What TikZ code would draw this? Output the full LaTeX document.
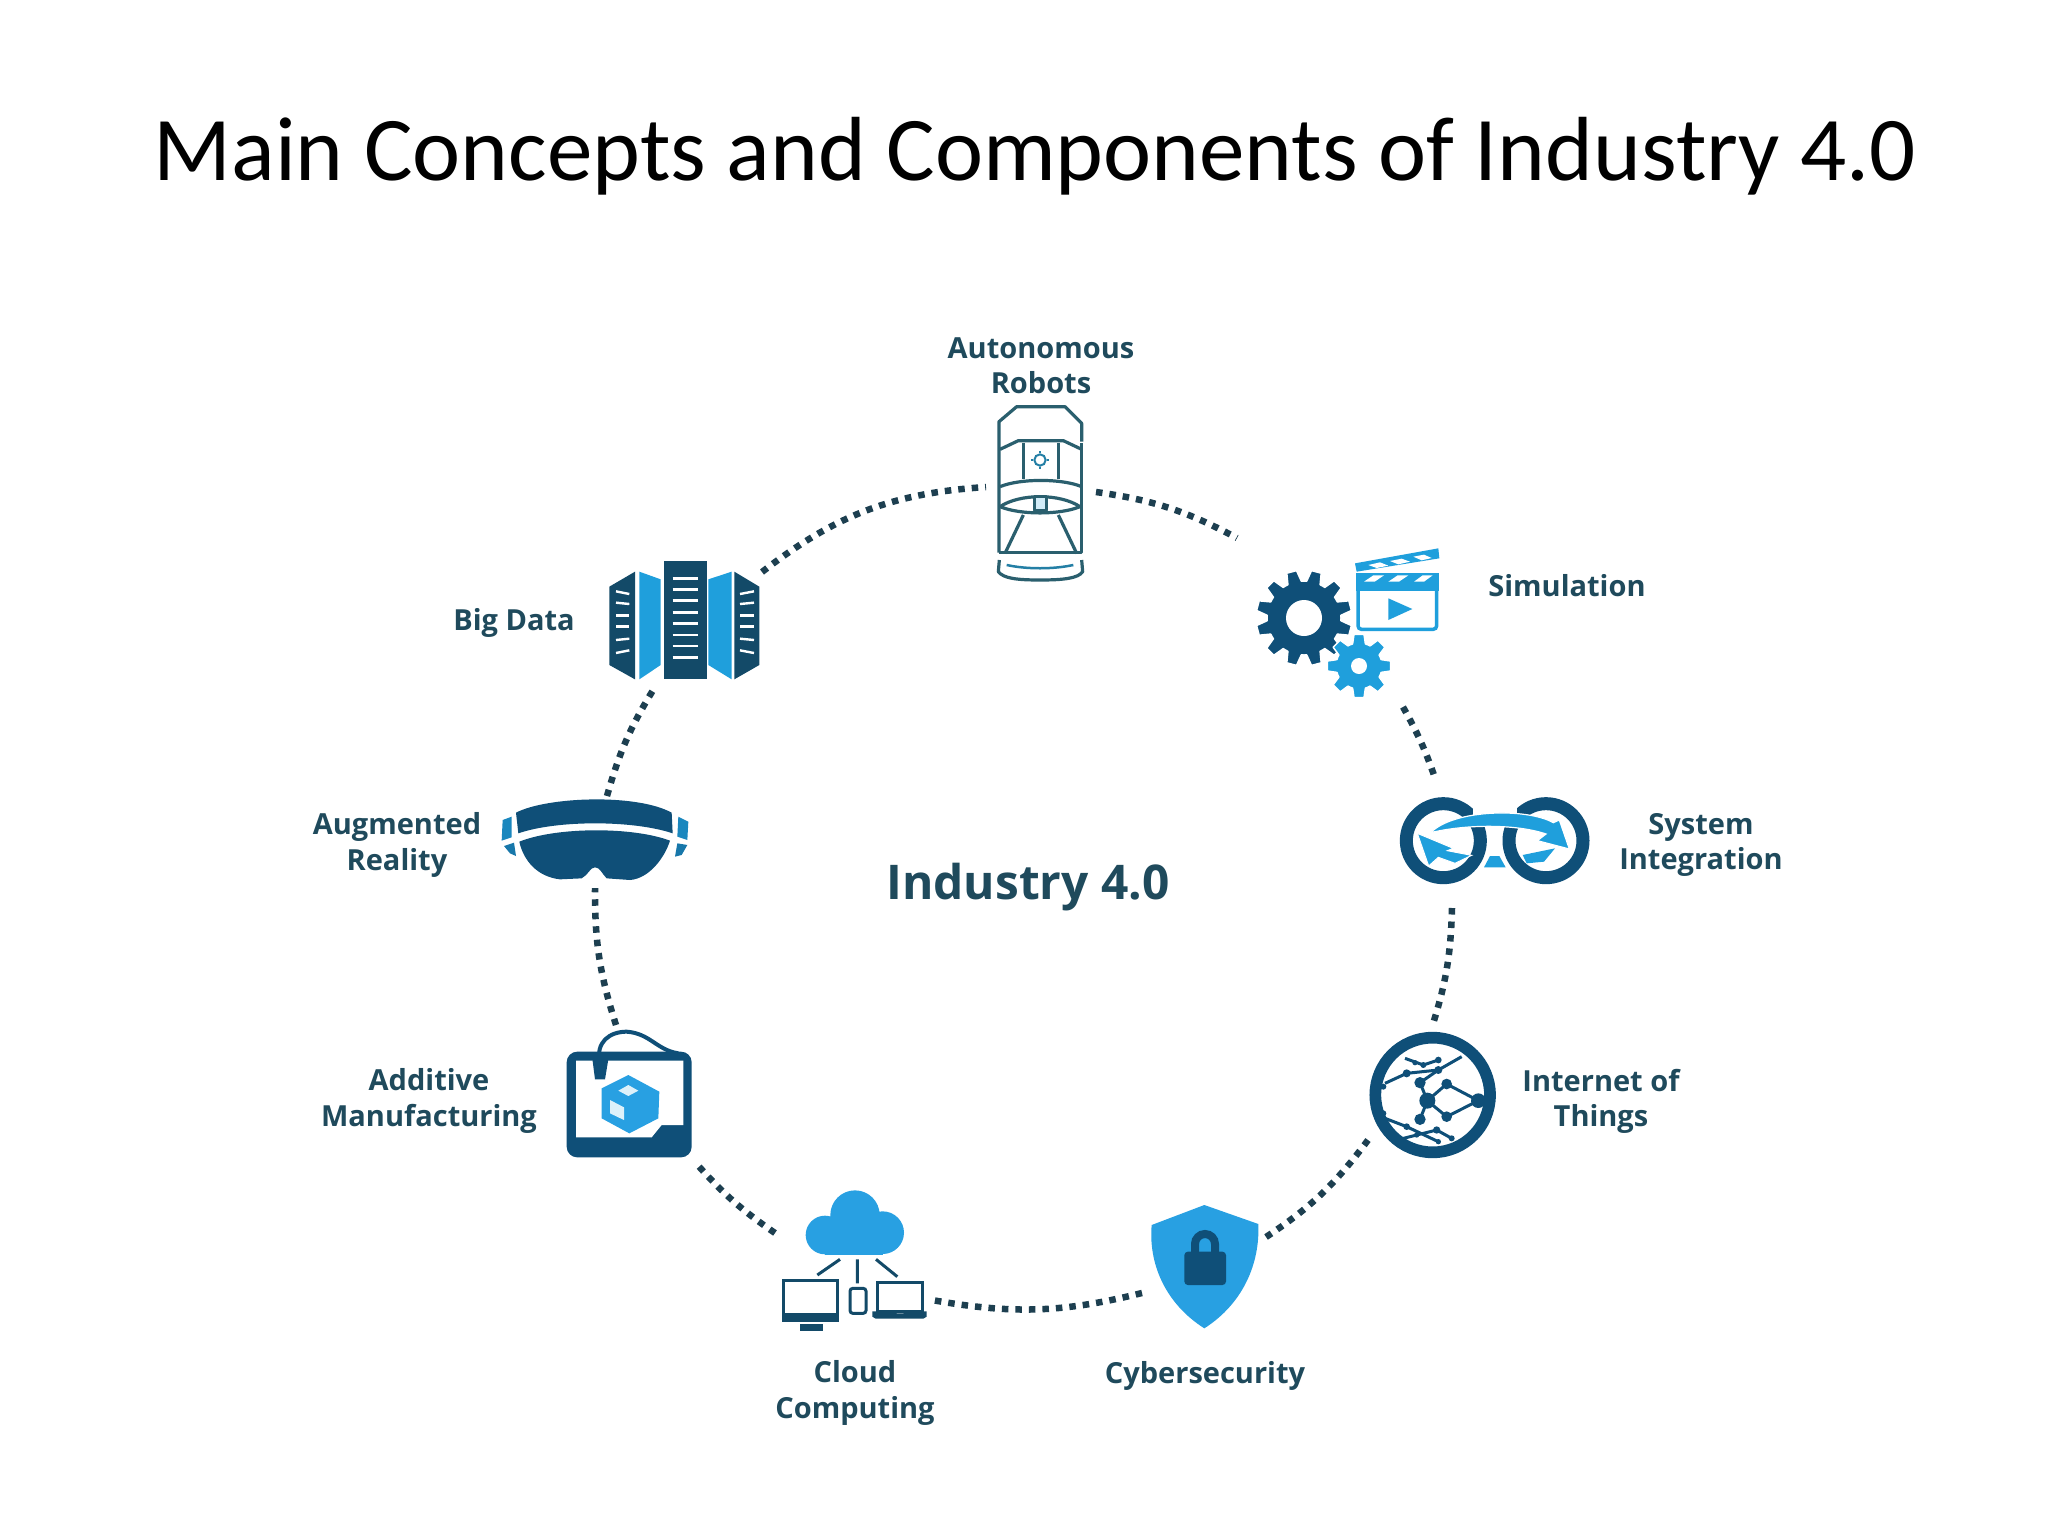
\documentclass[tikz,border=0pt]{standalone}
\usepackage{fontspec}
\setmainfont{Carlito}
\newfontfamily\labelfont{Open Sans}
\definecolor{txt}{HTML}{1F4A5C}
\definecolor{dotc}{HTML}{1D3F50}
\definecolor{navy}{HTML}{0F4F78}
\definecolor{rack}{HTML}{134A68}
\definecolor{sky}{HTML}{1F9FDC}
\definecolor{shieldc}{HTML}{28A0E2}
\definecolor{carl}{HTML}{2A5F6E}
\tikzset{
  lbl/.style={font=\labelfont\bfseries\fontsize{8.25}{10}\selectfont,text=txt,align=center,inner sep=0pt},
  dots/.style={draw=dotc,line width=0.065cm,dash pattern=on 0.065cm off 0.07cm},
  carline/.style={draw=carl,line width=0.032cm,line join=round},
  net/.style={draw=navy,line width=0.03cm},
}
\newcommand{\gearshape}[5]{%
  \begin{scope}[shift={#1}]
  \pgfmathsetmacro{\stp}{360/#4}
  \fill[#5,draw=white,line width=0.015cm,line join=round] (0:#3)
    \foreach \k in {1,...,#4}{
      -- ({(\k-1)*\stp+0.14*\stp}:#3) -- ({(\k-1)*\stp+0.30*\stp}:#2) -- ({(\k-1)*\stp+0.70*\stp}:#2) -- ({(\k-1)*\stp+0.86*\stp}:#3) -- ({\k*\stp}:#3)
    } -- cycle;
  \end{scope}}
\begin{document}
\begin{tikzpicture}[x=0.01cm,y=-0.01cm]
\useasboundingbox[fill=white] (0,0) rectangle (2048,1536);

\node[font=\fontsize{25.9}{30}\selectfont,inner sep=0pt] (title) at (1035,156) {Main Concepts and Components of Industry 4.0};
\node[lbl,font=\labelfont\bfseries\fontsize{13.6}{16}\selectfont] (center) at (1028,887) {Industry 4.0};

\node[lbl] (l1) at (1041,366) {Autonomous\\Robots};
\node[lbl] (l2) at (1567,586) {Simulation};
\node[lbl] (l3) at (1701,845) {System\\Integration};
\node[lbl] (l4) at (1601,1101) {Internet of\\Things};
\node[lbl] (l5) at (1205,1376) {Cybersecurity};
\node[lbl] (l6) at (855,1393) {Cloud\\Computing};
\node[lbl] (l7) at (429,1101) {Additive\\Manufacturing};
\node[lbl] (l8) at (397,845) {Augmented\\Reality};
\node[lbl] (l9) at (514,623) {Big Data};

% dotted arcs
\coordinate (a1s) at (1096,492); \coordinate (a1e) at (1237,538);
\coordinate (a2s) at (1403,707); \coordinate (a2e) at (1435,778);
\coordinate (a3s) at (1452,908); \coordinate (a3e) at (1432,1027);
\coordinate (a4s) at (1368,1140); \coordinate (a4e) at (1263,1239);
\coordinate (a5s) at (1142,1293); \coordinate (a5e) at (932,1300);
\coordinate (a6s) at (775,1233); \coordinate (a6e) at (695,1162);
\coordinate (a7s) at (616,1025); \coordinate (a7e) at (595,888);
\coordinate (a8s) at (607,796); \coordinate (a8e) at (655,687);
\coordinate (a9s) at (762,572); \coordinate (a9e) at (986,487);
\draw[dots] (a1s) to[bend left=10] (a1e);
\draw[dots] (a2s) to[bend left=5] (a2e);
\draw[dots] (a3s) to[bend left=8] (a3e);
\draw[dots] (a4s) to[bend left=10] (a4e);
\draw[dots] (a5s) to[bend left=12] (a5e);
\draw[dots] (a6s) to[bend left=7] (a6e);
\draw[dots] (a7s) to[bend left=9] (a7e);
\draw[dots] (a8s) to[bend left=8] (a8e);
\draw[dots] (a9s) to[bend left=17] (a9e);

% car
\begin{scope}[shift={(980,400)},scale=1/3]
  \draw[carline] (305,125) -- (305,70) -- (255,20) -- (110,20) -- (57,65) -- (57,458);
  \draw[carline] (305,130) -- (305,458) -- (57,458);
  \draw[carline] (60,148) -- (115,122) -- (250,122) -- (305,148);
  \draw[carline] (130,130) -- (130,238); \draw[carline] (235,130) -- (235,238);
  \draw[carline] (60,260) .. controls (120,235) and (245,235) .. (305,260);
  \draw[carline] (60,320) .. controls (120,280) and (240,280) .. (300,320) .. controls (240,345) and (120,345) .. cycle;
  \draw[carline,fill=sky!20] (163,290) rectangle (200,332);
  \draw[draw=sky!50!carl,line width=0.02cm] (180,180) circle (17);
  \draw[draw=sky!50!carl,line width=0.015cm] (180,153) -- (180,160) (180,200) -- (180,207) (153,180) -- (160,180) (200,180) -- (207,180);
  \draw[carline] (130,345) -- (75,460); \draw[carline] (235,345) -- (290,460);
  \draw[carline] (58,480) -- (55,515) .. controls (70,535) and (110,540) .. (180,540) .. controls (250,540) and (295,535) .. (308,515) -- (305,480);
  \draw[draw=sky!50!carl,line width=0.025cm] (80,495) .. controls (140,508) and (220,508) .. (280,495);
\end{scope}

% gears
\gearshape{(1304,618)}{48}{37}{12}{navy}
\fill[white] (1304,618) circle (18);
\begin{scope}[shift={(1359,666)},rotate=22.5]
\gearshape{(0,0)}{32}{23}{8}{sky}
\end{scope}
\fill[white] (1359,666) circle (8);

% clapperboard
\begin{scope}[shift={(1240,530)},scale=1/3]
  \fill[sky] (345,100) -- (595,55) -- (598,85) -- (350,125) -- cycle;
  \fill[white] (385,105) -- (420,97) -- (445,107) -- (410,114) -- cycle;
  \fill[white] (450,93) -- (485,86) -- (510,95) -- (475,103) -- cycle;
  \fill[white] (520,80) -- (552,74) -- (575,84) -- (545,91) -- cycle;
  \fill[sky] (347,128) rectangle (597,182);
  \fill[white] (372,155) -- (400,136) -- (432,136) -- (404,155) -- cycle;
  \fill[white] (445,155) -- (473,136) -- (505,136) -- (477,155) -- cycle;
  \fill[white] (522,155) -- (548,136) -- (578,136) -- (552,155) -- cycle;
  \draw[sky,line width=0.035cm,rounded corners=1pt] (354,180) -- (354,298) -- (590,298) -- (590,180);
  \fill[sky] (445,205) -- (445,270) -- (517,237) -- cycle;
\end{scope}

% links
\begin{scope}[shift={(1340,780)},scale=1/3]
  \draw[navy,line width=0.13cm] (310,182) circle (111);
  \draw[navy,line width=0.13cm] (618,182) circle (111);
  \fill[white] (400,50) rectangle (530,135);
  \draw[white,line width=0.012cm,fill=sky] (272,158) .. controls (340,88) and (560,83) .. (640,128) -- (658,120) -- (688,207) -- (592,182) -- (618,162) .. controls (530,132) and (380,132) .. cycle;
  \draw[white,line width=0.01cm,fill=sky] (232,160) -- (340,205) -- (322,212) -- (395,226) -- (345,250) -- (295,232) -- (266,258) -- cycle;
  \fill[sky] (548,225) -- (645,205) -- (612,245) -- (560,250) -- cycle;
  \fill[sky] (450,228) -- (478,228) -- (497,262) -- (432,262) -- cycle;
\end{scope}

% IoT
\begin{scope}[shift={(1340,780)},scale=1/3]
  \draw[navy,line width=0.117cm] (278,945) circle (172);
  \draw[net] (240,908) -- (262,962) -- (320,912) -- (415,962) -- (320,1010) -- (262,962) -- (240,1018);
  \draw[net] (135,910) -- (200,880) -- (295,870) -- (365,830);
  \draw[net] (195,835) -- (250,855) -- (295,840);
  \draw[net] (240,908) -- (295,870);
  \draw[net] (135,1015) -- (200,1040) -- (295,1085);
  \draw[net] (190,1075) -- (230,1065) -- (290,1050) -- (335,1075);
  \foreach \p/\r in {(262,962)/24,(415,962)/22,(240,908)/17,(320,912)/16,(240,1018)/17,(320,1010)/16,
     (200,880)/12,(295,870)/12,(250,855)/9,(295,840)/10,(225,848)/8,(200,1040)/10,(290,1050)/11,(230,1065)/8,(295,1085)/8,(335,1075)/9,(130,1000)/9,(130,920)/9}
    \fill[navy] \p circle (\r);
\end{scope}

% shield
\begin{scope}[shift={(1120,1150)},scale=1/3]
  \fill[shieldc] (253,165) -- (415,222) .. controls (420,340) and (370,460) .. (253,535) .. controls (135,460) and (85,340) .. (95,225) -- cycle;
  \draw[navy,line width=0.08cm] (225,310) -- (225,282) arc[start angle=180,end angle=360,radius=30] -- (285,310);
  \fill[navy,rounded corners=1pt] (193,305) rectangle (318,405);
\end{scope}

% cloud
\begin{scope}[shift={(760,1170)},scale=1/3]
  \fill[shieldc] (285,135) circle (74) (195,195) circle (58) (368,188) circle (64);
  \fill[shieldc] (195,200) rectangle (368,255);
  \draw[rack,line width=0.03cm] (172,315) -- (240,268) (292,268) -- (292,340) (348,268) -- (412,320);
  \draw[rack,line width=0.03cm] (70,330) rectangle (233,450);
  \fill[rack] (68,430) rectangle (235,453);
  \fill[rack] (120,462) rectangle (190,482);
  \draw[rack,line width=0.03cm,rounded corners=0.8pt] (270,355) rectangle (318,430);
  \draw[rack,line width=0.03cm] (352,338) rectangle (488,425);
  \fill[rack] (337,424) -- (400,424) -- (410,430) -- (430,430) -- (440,424) -- (500,424) -- (500,440) -- (490,446) -- (347,446) -- (337,440) -- cycle;
\end{scope}

% additive
\begin{scope}[shift={(550,1020)},scale=1/3]
  \fill[navy,rounded corners=3pt] (50,95) rectangle (425,412);
  \fill[white] (78,122) -- (400,122) -- (400,315) -- (335,315) -- (305,352) -- (78,352) -- cycle;
  \draw[navy,line width=0.04cm] (150,130) .. controls (135,65) and (180,35) .. (230,35) .. controls (300,40) and (320,90) .. (385,100);
  \fill[navy] (125,100) -- (178,100) -- (165,178) -- (135,178) -- cycle;
  \fill[shieldc] (235,165) -- (328,215) -- (325,295) -- (238,340) -- (155,295) -- (155,205) -- cycle;
  \fill[white!85!sky] (235,195) -- (265,212) -- (235,228) -- (205,212) -- cycle;
  \fill[white!85!sky] (180,240) -- (222,262) -- (222,300) -- (180,280) -- cycle;
\end{scope}

% AR visor
\begin{scope}[shift={(490,780)},scale=1/3]
  \fill[navy] (78,98) .. controls (170,50) and (440,40) .. (545,98) -- (548,160) .. controls (430,120) and (200,120) .. (85,160) -- cycle;
  \fill[navy] (88,185) .. controls (200,140) and (430,140) .. (540,182) .. controls (525,230) and (480,295) .. (420,300) -- (350,295) .. controls (335,280) and (330,262) .. (315,262) .. controls (300,262) and (295,285) .. (275,295) -- (210,298) .. controls (140,290) and (100,240) .. cycle;
  \fill[sky!70!navy] (38,120) -- (65,110) -- (65,172) -- (35,182) -- cycle;
  \fill[sky!50!navy] (42,198) -- (72,188) -- (78,228) -- (60,220) -- cycle;
  \fill[sky!70!navy] (565,110) -- (595,125) -- (592,180) -- (562,170) -- cycle;
  \fill[sky!50!navy] (562,190) -- (592,195) -- (575,225) -- (555,230) -- cycle;
\end{scope}

% big data
\begin{scope}[shift={(590,550)},scale=1/3]
  \fill[rack] (222,33) rectangle (350,388);
  \foreach \y in {85,118,152,187,220,255,288,322}
    \draw[white,line width=0.027cm] (248,\y) -- (325,\y);
  \fill[rack] (58,110) -- (135,65) -- (135,388) -- (58,345) -- cycle;
  \fill[sky] (148,65) -- (212,88) -- (212,345) -- (148,388) -- cycle;
  \fill[sky] (355,88) -- (425,65) -- (425,388) -- (355,345) -- cycle;
  \fill[rack] (433,65) -- (508,110) -- (508,345) -- (433,388) -- cycle;
  \foreach \y/\d in {128/-4,160/-2,197/0,230/0,268/2,305/4}{
    \draw[white,line width=0.024cm] (78,\y+\d) -- (118,\y-\d);
    \draw[white,line width=0.024cm] (450,\y-\d) -- (492,\y+\d);
  }
\end{scope}
\end{tikzpicture}
\end{document}
